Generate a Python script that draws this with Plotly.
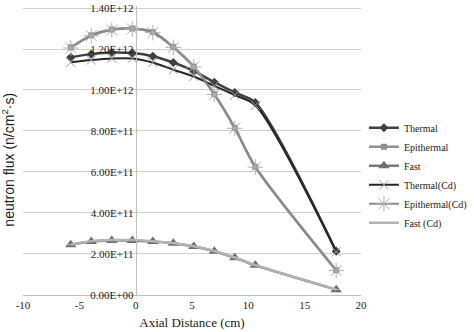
import plotly.graph_objects as go

axial_cm = [-5.76, -3.94, -2.12, -0.3, 1.52, 3.34, 5.16, 6.98, 8.8, 10.62, 17.8]

thermal = [1.16e12, 1.175e12, 1.183e12, 1.18e12, 1.165e12, 1.134e12, 1.093e12, 1.038e12, 0.987e12, 0.938e12, 2.13e11]
epithermal = [1.208e12, 1.267e12, 1.295e12, 1.30e12, 1.283e12, 1.21e12, 1.114e12, 0.98e12, 0.815e12, 0.625e12, 1.2e11]
fast = [2.44e11, 2.6e11, 2.65e11, 2.65e11, 2.6e11, 2.52e11, 2.36e11, 2.13e11, 1.81e11, 1.44e11, 2.5e10]
thermal_cd = [1.135e12, 1.146e12, 1.154e12, 1.154e12, 1.134e12, 1.099e12, 1.066e12, 1.02e12, 0.975e12, 0.925e12, 2.1e11]
epithermal_cd = [1.205e12, 1.265e12, 1.293e12, 1.298e12, 1.28e12, 1.208e12, 1.112e12, 0.978e12, 0.813e12, 0.623e12, 1.18e11]
fast_cd = [2.45e11, 2.62e11, 2.67e11, 2.67e11, 2.62e11, 2.53e11, 2.37e11, 2.14e11, 1.82e11, 1.45e11, 2.6e10]

series_names = ["Thermal", "Epithermal", "Fast", "Thermal(Cd)", "Epithermal(Cd)", "Fast (Cd)"]

y_tick_vals = [0, 2e11, 4e11, 6e11, 8e11, 1.0e12, 1.2e12, 1.4e12]
y_tick_text = ["0.00E+00", "2.00E+11", "4.00E+11", "6.00E+11", "8.00E+11", "1.00E+12", "1.20E+12", "1.40E+12"]
x_tick_vals = [-10, -5, 0, 5, 10, 15, 20]
x_tick_text = ["-10", "-5", "0", "5", "10", "15", "20"]

styles = [
    dict(line=dict(color="#404040", width=2.5), marker=dict(symbol="diamond", size=7, color="#404040")),
    dict(line=dict(color="#8f8f8f", width=2.5), marker=dict(symbol="square", size=6, color="#8f8f8f")),
    dict(line=dict(color="#7a7a7a", width=2.5), marker=dict(symbol="triangle-up", size=10, color="#6e6e6e")),
    dict(line=dict(color="#262626", width=2), marker=dict(symbol="x-thin-open", size=9, color="#9a9a9a", line=dict(width=1, color="#9a9a9a"))),
    dict(line=dict(color="#8a8a8a", width=2), marker=dict(symbol="asterisk-open", size=13, color="#b0b0b0", line=dict(width=1, color="#b0b0b0"))),
    dict(line=dict(color="#b3b3b3", width=2.5), marker=dict(symbol="line-ew-open", size=5, color="#b3b3b3", line=dict(width=1, color="#b3b3b3"))),
]

series = [thermal, epithermal, fast, thermal_cd, epithermal_cd, fast_cd]

fig = go.Figure()
for name, vals, st in zip(series_names, series, styles):
    fig.add_trace(go.Scatter(
        x=axial_cm, y=vals, name=name, mode="lines+markers",
        line=dict(shape="spline", smoothing=0.8, **st["line"]),
        marker=st["marker"],
    ))

serif = "Liberation Serif"
fig.update_layout(
    width=474, height=332,
    margin=dict(l=23, r=107, t=2, b=37),
    paper_bgcolor="white", plot_bgcolor="white",
    font=dict(family=serif, size=11, color="#222222"),
    showlegend=True,
    legend=dict(
        x=1.0087, xanchor="left", y=0.6287, yanchor="top",
        font=dict(family=serif, size=10, color="#222222"),
        bgcolor="rgba(0,0,0,0)", borderwidth=0,
    ),
    xaxis=dict(
        range=[-10, 20], tickvals=x_tick_vals, ticktext=x_tick_text,
        showgrid=False, zeroline=False, showline=True, linecolor="#bfbfbf", linewidth=1,
        ticks="", tickfont=dict(family=serif, size=11, color="#222222"),
        title=dict(text="Axial Distance (cm)", font=dict(family=serif, size=13, color="#222222"), standoff=7),
    ),
    yaxis=dict(
        range=[-1e9, 1.41e12], tickvals=y_tick_vals, ticktext=y_tick_text,
        anchor="free", position=1/3, ticklabeloverflow="allow",
        showgrid=True, gridcolor="#d0d0d0", gridwidth=1,
        zeroline=False, showline=True, linecolor="#bfbfbf", linewidth=1,
        ticks="", tickfont=dict(family=serif, size=11, color="#222222"),
    ),
    annotations=[dict(
        text="neutron flux (n/cm<sup>2</sup>·s)", textangle=-90,
        xref="paper", yref="paper", x=-0.045, y=0.4676, xanchor="center", yanchor="middle",
        showarrow=False, font=dict(family="Liberation Sans", size=14, color="#222222"),
    )],
)

fig.write_html("out.html")
